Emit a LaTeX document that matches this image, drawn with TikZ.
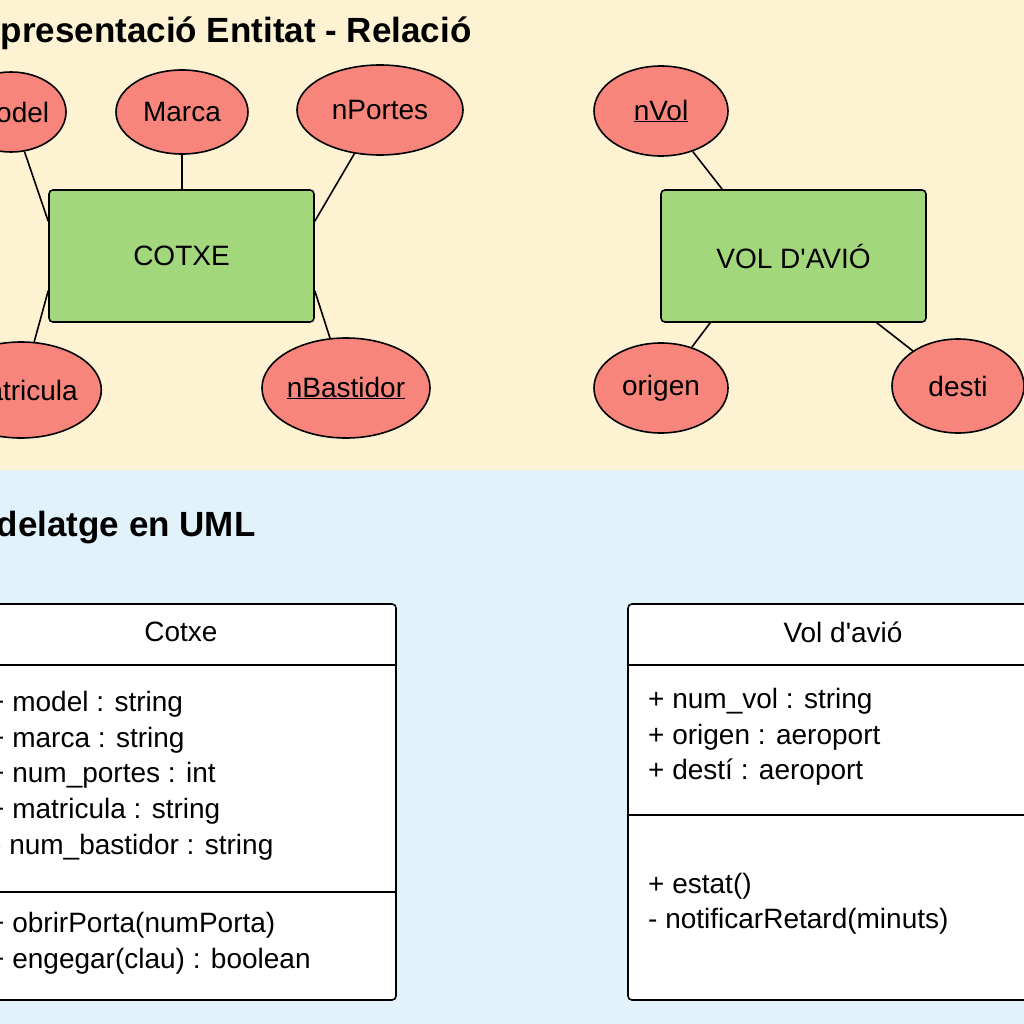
\documentclass[tikz,border=0pt]{standalone}
\usepackage{fontspec}
\setmainfont{Liberation Sans}
\usetikzlibrary{shapes.geometric}
\definecolor{bgY}{HTML}{FDF3D3}
\definecolor{bgB}{HTML}{E2F2FA}
\definecolor{attr}{HTML}{F7857B}
\definecolor{ent}{HTML}{A3D77B}
\begin{document}
\begin{tikzpicture}[x=1pt,y=-1pt,
  txt/.style={font=\fontsize{28}{33}\selectfont},
  attrb/.style={ellipse,draw=black,line width=1.6pt,fill=attr,inner sep=0pt,txt},
  en/.style={draw=black,line width=1.6pt,fill=ent,rounded corners=4pt,minimum width=265pt,minimum height=132pt,txt},
  ln/.style={line width=1.6pt},
  title/.style={font=\bfseries\fontsize{35}{40}\selectfont,anchor=east},
  box/.style={draw=black,line width=1.6pt,fill=white,rounded corners=4pt},
  row/.style={txt,anchor=west,inner sep=0pt}]
\useasboundingbox (0,0) rectangle (1024,1024);
\begin{scope}
\clip (0,0) rectangle (1024,1024);
\fill[bgY] (0,0) rectangle (1024,470);
\fill[bgB] (0,470) rectangle (1024,1024);
\node[title] (t1) at (475,33) {Representació Entitat - Relació};
\node[title] (t2) at (259,528) {Modelatge en UML};
% ER
\node[en] (c) at (181.5,256) {COTXE};
\node[en] (v) at (793.5,256) {VOL D\textquotesingle AVIÓ};
\node[attrb,minimum width=110pt,minimum height=80pt] (mo) at (11,112) {Model};
\node[attrb,minimum width=132pt,minimum height=84pt] (ma) at (182,112) {Marca};
\node[attrb,minimum width=166pt,minimum height=90pt] (np) at (380,110) {nPortes};
\node[attrb,minimum width=156pt,minimum height=96pt] (mt) at (21,390) {Matricula};
\node[attrb,minimum width=168pt,minimum height=100pt] (nb) at (346,388) {\underline{nBastidor}};
\node[attrb,minimum width=134pt,minimum height=90pt] (nv) at (661,111) {\underline{nVol}};
\node[attrb,minimum width=134pt,minimum height=90pt] (or) at (661,388) {origen};
\node[attrb,minimum width=132pt,minimum height=94pt] (de) at (958,386) {desti};
\draw[ln] (mo) -- ([yshift=-32]c.north west);
\draw[ln] (ma) -- (c.north -| ma);
\draw[ln] (np) -- ([yshift=-32]c.north east);
\draw[ln] (mt) -- ([yshift=32]c.south west);
\draw[ln] (nb) -- ([yshift=32]c.south east);
\draw[ln] (nv) -- ([xshift=62]v.north west);
\draw[ln] (or) -- ([xshift=50]v.south west);
\draw[ln] (de) -- ([xshift=-50]v.south east);
% UML
\draw[box] (-20,604) rectangle (396,1000);
\draw[ln] (-20,665) -- (396,665);
\draw[ln] (-20,892) -- (396,892);
\node[txt] (ct) at (181,632) {Cotxe};
\node[row] (r1) at (-12,704) {+ model : string};
\node[row] (r2) at (-12,740) {+ marca : string};
\node[row] (r3) at (-12,775) {+ num\_portes : int};
\node[row] (r4) at (-12,811) {+ matricula : string};
\node[row] (r5) at (-8,847) {- num\_bastidor : string};
\node[row] (r6) at (-12,925) {+ obrirPorta(numPorta)};
\node[row] (r7) at (-12,961) {+ engegar(clau) : boolean};
\draw[box] (628,604) rectangle (1040,1000);
\draw[ln] (628,665) -- (1040,665);
\draw[ln] (628,815) -- (1040,815);
\node[txt] (vt) at (843,632) {Vol d\textquotesingle avió};
\node[row] (s1) at (648,701) {+ num\_vol : string};
\node[row] (s2) at (648,737) {+ origen : aeroport};
\node[row] (s3) at (648,772) {+ destí : aeroport};
\node[row] (s4) at (648,886) {+ estat()};
\node[row] (s5) at (648,921) {- notificarRetard(minuts)};
\end{scope}
\end{tikzpicture}
\end{document}
